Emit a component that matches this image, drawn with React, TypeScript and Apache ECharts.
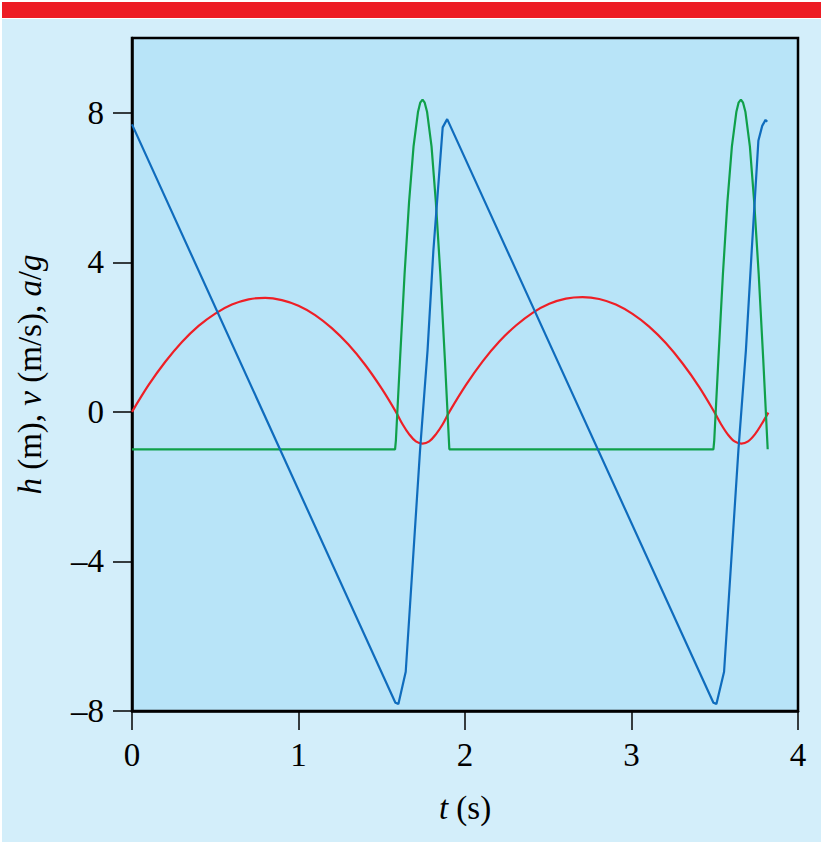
import React, { useEffect, useRef } from "react";
import * as echarts from "echarts";

// ---- data ----
const xTickValues = [0, 1, 2, 3, 4];
const yTickValues = [-8, -4, 0, 4, 8];

// height h (m)
const heightData: [number, number][] = [
  [0, 0], [0.1, 0.72], [0.2, 1.34], [0.3, 1.87], [0.4, 2.3], [0.5, 2.63], [0.6, 2.87],
  [0.7, 3.01], [0.8, 3.05], [0.9, 2.99], [1.0, 2.84], [1.1, 2.59], [1.2, 2.24], [1.3, 1.8],
  [1.4, 1.26], [1.5, 0.62], [1.585, 0],
  [1.625, -0.33], [1.665, -0.6], [1.705, -0.79], [1.745, -0.85], [1.785, -0.79],
  [1.825, -0.6], [1.866, -0.33], [1.906, 0],
  [2.006, 0.72], [2.106, 1.35], [2.206, 1.88], [2.306, 2.31], [2.406, 2.65], [2.506, 2.89],
  [2.606, 3.03], [2.706, 3.07], [2.806, 3.02], [2.906, 2.87], [3.006, 2.62], [3.106, 2.28],
  [3.206, 1.84], [3.306, 1.3], [3.406, 0.67], [3.497, 0],
  [3.538, -0.33], [3.578, -0.6], [3.619, -0.79], [3.66, -0.85], [3.7, -0.79],
  [3.741, -0.6], [3.781, -0.33], [3.822, -0.02],
];

// velocity v (m/s)
const velocityData: [number, number][] = [
  [0, 7.69], [1.582, -7.78], [1.6, -7.81], [1.644, -6.95], [1.73, -1.03], [1.775, 1.64],
  [1.81, 4.31], [1.866, 7.61], [1.893, 7.83],
  [3.492, -7.78], [3.51, -7.81], [3.556, -6.95], [3.642, -1.03], [3.687, 1.64],
  [3.722, 4.31], [3.762, 7.25], [3.785, 7.65], [3.805, 7.81], [3.815, 7.76],
];

// acceleration a/g
const accelData: [number, number][] = [
  [0, -1], [1.58, -1], [1.585, -0.76], [1.61, 1.42], [1.637, 3.68], [1.664, 5.61],
  [1.691, 7.1], [1.718, 8.03], [1.731, 8.27], [1.745, 8.35], [1.758, 8.27], [1.772, 8.03],
  [1.799, 7.1], [1.825, 5.61], [1.852, 3.68], [1.879, 1.42], [1.906, -1],
  [3.492, -1], [3.497, -0.76], [3.522, 1.42], [3.549, 3.68], [3.576, 5.61],
  [3.603, 7.1], [3.63, 8.03], [3.643, 8.27], [3.657, 8.35], [3.67, 8.27], [3.684, 8.03],
  [3.711, 7.1], [3.737, 5.61], [3.764, 3.68], [3.791, 1.42], [3.818, -1],
];

const FONT = "Liberation Serif";
const FS = 33;

export default function App() {
  const ref = useRef<HTMLDivElement>(null);

  useEffect(() => {
    if (!ref.current) return;
    const chart = echarts.init(ref.current, undefined, { renderer: "svg" });
    const lineStyle = (color: string) => ({ color, width: 2.2 });
    const nameStyle = {
      fontFamily: FONT,
      fontSize: FS,
      color: "#000",
      rich: {
        r: { fontFamily: FONT, fontSize: FS, color: "#000" },
        i: { fontFamily: FONT, fontSize: FS, fontStyle: "italic", color: "#000" },
      },
    };
    chart.setOption({
      animation: false,
      backgroundColor: "transparent",
      grid: {
        left: 132,
        top: 38,
        right: 23,
        bottom: 134,
        show: true,
        backgroundColor: "#b8e4f8",
        borderColor: "#000",
        borderWidth: 2.5,
      },
      xAxis: {
        type: "value",
        min: 0,
        max: 4,
        interval: 1,
        name: "{i|t}{r| (s)}",
        nameLocation: "middle",
        nameGap: 80,
        nameTextStyle: nameStyle,
        axisLine: { show: true, onZero: false, lineStyle: { color: "#000", width: 2.5 } },
        axisTick: {
          show: true,
          inside: false,
          length: 19,
          lineStyle: { color: "#000", width: 1.5 },
          customValues: xTickValues,
        },
        axisLabel: {
          margin: 27,
          fontFamily: FONT,
          fontSize: FS,
          color: "#000",
          customValues: xTickValues,
        },
        splitLine: { show: false },
      },
      yAxis: {
        type: "value",
        min: -8,
        max: 10,
        interval: 4,
        name: "{i|h}{r| (m), }{i|v}{r| (m/s), }{i|a}{r|/}{i|g}",
        nameLocation: "middle",
        nameRotate: 90,
        nameGap: 86,
        nameTextStyle: nameStyle,
        axisLine: { show: true, onZero: false, lineStyle: { color: "#000", width: 2.5 } },
        axisTick: {
          show: true,
          inside: false,
          length: 19,
          lineStyle: { color: "#000", width: 1.5 },
          customValues: yTickValues,
        },
        axisLabel: {
          margin: 28,
          fontFamily: FONT,
          fontSize: FS,
          color: "#000",
          customValues: yTickValues,
          formatter: (v: number) => String(v).replace("-", "\u2013"),
        },
        splitLine: { show: false },
      },
      series: [
        {
          name: "h",
          type: "line",
          data: heightData,
          showSymbol: false,
          smooth: 0.35,
          lineStyle: lineStyle("#ee1f26"),
          z: 2,
        },
        {
          name: "a/g",
          type: "line",
          data: accelData,
          showSymbol: false,
          lineStyle: lineStyle("#0fa04a"),
          z: 3,
        },
        {
          name: "v",
          type: "line",
          data: velocityData,
          showSymbol: false,
          lineStyle: lineStyle("#0f6cbd"),
          z: 4,
        },
      ],
    });
    return () => chart.dispose();
  }, []);

  return (
    <div
      style={{
        position: "absolute",
        left: 0,
        top: 0,
        width: 821,
        height: 845,
        background: "#ffffff",
        overflow: "hidden",
      }}
    >
      <div
        style={{ position: "absolute", left: 2, top: 2, width: 819, height: 16, background: "#ed1c24" }}
      />
      <div
        style={{ position: "absolute", left: 2, top: 19, width: 819, height: 823, background: "#d3eefa" }}
      />
      <div ref={ref} style={{ position: "absolute", left: 0, top: 0, width: 821, height: 845 }} />
    </div>
  );
}
